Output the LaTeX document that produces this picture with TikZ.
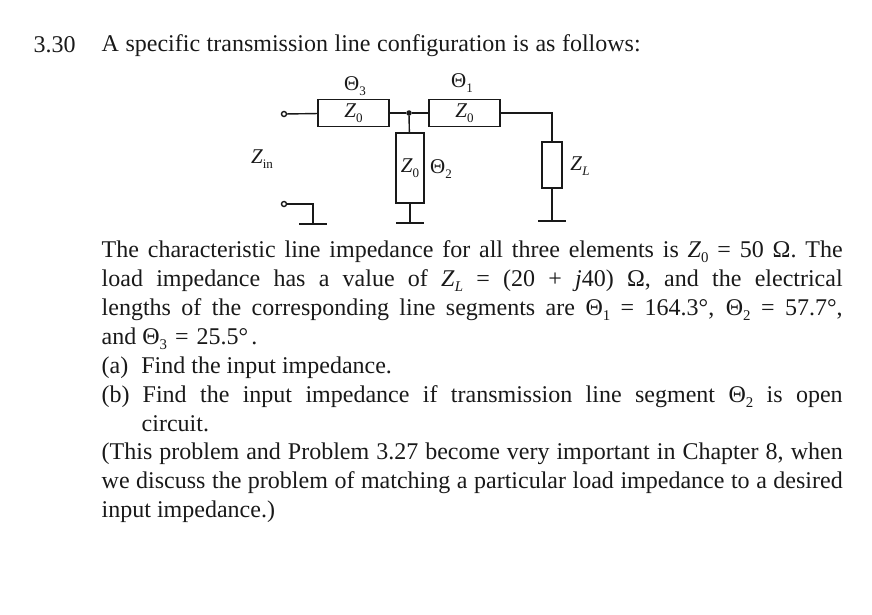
\documentclass[tikz,border=0pt]{standalone}
\usepackage{fontspec}
\setmainfont{Liberation Serif}
\newcommand{\sbs}[1]{\raisebox{-.24em}{\fontsize{\the\dimexpr.62em\relax}{0pt}\selectfont #1}}
\newcommand{\Zo}{\textit{Z}\sbs{0}}
\newcommand{\ZL}{\textit{Z}\sbs{\textit{L}}}
\newcommand{\Th}[1]{Θ\sbs{#1}}
\newcommand{\fullline}[1]{\hbox to 741pt{#1}}
\begin{document}
\begin{tikzpicture}[x=1pt, y=-1pt, node distance={111pt}, line width=1.4pt, color=black!90,
	main/.style = {draw, rectangle, inner sep=0pt, font=\fontsize{21}{21}\selectfont},
	hbox/.style = {main, minimum width=71pt, minimum height=27pt},
	vbox/.style = {main, minimum width=28pt, minimum height=70pt},
	load/.style = {main, minimum width=20pt, minimum height=46pt},
	term/.style = {draw, circle, fill=white, inner sep=0pt, minimum size=5pt},
	dot/.style = {draw, circle, fill, inner sep=0pt, minimum size=4pt},
	gnd/.style = {draw, fill, rectangle, inner sep=0pt, minimum width=26pt, minimum height=1.5pt},
	lbl/.style = {inner sep=0pt, font=\fontsize{21}{21}\selectfont},
	txt/.style = {anchor=base west, inner sep=0pt, font=\fontsize{24}{24}\selectfont}]
	\useasboundingbox (0,0) rectangle (872,614);
	\node[txt] (num) at (33,52) {3.30};
	\node[txt] (head) at (101,51) {\hbox to 539pt{A specific transmission line configuration is as follows:}};
	% circuit
	\node[hbox] (3) at (353.5,113) {\Zo};
	\node[hbox] (1) [right of=3] {\Zo};
	\node[dot] (j) at (409,113) {};
	\node[vbox] (2) at (410,168) {\Zo};
	\node[load] (L) at (552,165) {};
	\node[term] (a) at (284,114) {};
	\node[term] (b) at (284,204) {};
	\node[gnd] (g1) at (313,224) {};
	\node[gnd] (g2) at (410,223) {};
	\node[gnd] (g3) at (552,221) {};
	\draw (a) -- (3);
	\draw (3) -- (j);
	\draw (j) -- (1);
	\draw (j) -- (2);
	\draw (1.east) -| (L.north);
	\draw (L) -- (g3);
	\draw (2) -- (g2);
	\draw (b) -| (g1);
	\node[lbl] (t3) at (355,86) {\Th{3}};
	\node[lbl] (t1) at (462,83) {\Th{1}};
	\node[lbl] (t2) at (441,169) {\Th{2}};
	\node[lbl] (zin) at (262,159) {\textit{Z}\sbs{in}};
	\node[lbl] (zl) at (580,166) {\ZL};
	% text
	\node[txt] (l1) at (101,257) {\fullline{The characteristic line impedance for all three elements is \Zo{} = 50 Ω. The}};
	\node[txt] (l2) at (101,286) {\fullline{load impedance has a value of \ZL{} = (20 + \textit{j}40) Ω, and the electrical}};
	\node[txt] (l3) at (101,315) {\fullline{lengths of the corresponding line segments are \Th{1} = 164.3°, \Th{2} = 57.7°,}};
	\node[txt] (l4) at (101,344) {and \Th{3}\hspace{8pt}=\hspace{8pt}25.5°\hspace{3pt}.};
	\node[txt] (l5) at (101,373) {(a)\hspace{13pt}Find the input impedance.};
	\node[txt] (l6) at (101,402) {\fullline{(b)\hspace{13pt}Find the input impedance if transmission line segment \Th{2} is open}};
	\node[txt] (l7) at (141,431) {circuit.};
	\node[txt] (l8) at (101,459) {\fullline{(This problem and Problem 3.27 become very important in Chapter 8, when}};
	\node[txt] (l9) at (101,488) {\fullline{we discuss the problem of matching a particular load impedance to a desired}};
	\node[txt] (l10) at (101,517) {input impedance.)};
\end{tikzpicture}
\end{document}
